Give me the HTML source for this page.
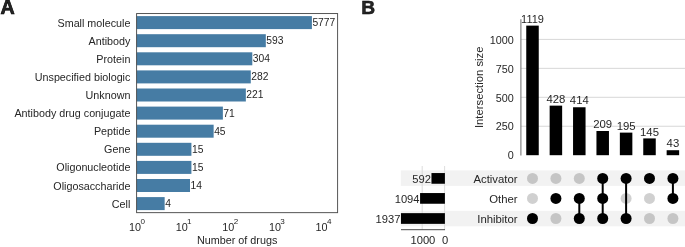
<!DOCTYPE html>
<html><head><meta charset="utf-8"><title>Figure</title>
<style>html,body{margin:0;padding:0;background:#fff}svg{display:block}text{font-family:"Liberation Sans",Arial,sans-serif;fill:#262626}</style></head><body>
<svg width="685" height="247" viewBox="0 0 685 247">
<rect width="685" height="247" fill="#fff"/>
<text x="0.4" y="14.4" font-size="19.5" font-weight="bold" fill="#000" stroke="#000" stroke-width="0.7" textLength="14.2" lengthAdjust="spacingAndGlyphs">A</text>
<text x="361.2" y="14.3" font-size="19.2" font-weight="bold" fill="#000" stroke="#000" stroke-width="0.5">B</text>
<rect x="136.6" y="16.10" width="175.30" height="13.0" fill="#467ca4"/>
<text x="130.4" y="26.60" font-size="10.75" text-anchor="end">Small molecule</text>
<text x="312.40" y="26.00" font-size="10.3">5777</text>
<rect x="136.6" y="34.20" width="129.22" height="13.0" fill="#467ca4"/>
<text x="130.4" y="44.70" font-size="10.75" text-anchor="end">Antibody</text>
<text x="266.32" y="44.10" font-size="10.3">593</text>
<rect x="136.6" y="52.30" width="115.70" height="13.0" fill="#467ca4"/>
<text x="130.4" y="62.80" font-size="10.75" text-anchor="end">Protein</text>
<text x="252.80" y="62.20" font-size="10.3">304</text>
<rect x="136.6" y="70.40" width="114.18" height="13.0" fill="#467ca4"/>
<text x="130.4" y="80.90" font-size="10.75" text-anchor="end">Unspecified biologic</text>
<text x="251.28" y="80.30" font-size="10.3">282</text>
<rect x="136.6" y="88.50" width="109.25" height="13.0" fill="#467ca4"/>
<text x="130.4" y="99.00" font-size="10.75" text-anchor="end">Unknown</text>
<text x="246.35" y="98.40" font-size="10.3">221</text>
<rect x="136.6" y="106.60" width="86.27" height="13.0" fill="#467ca4"/>
<text x="130.4" y="117.10" font-size="10.75" text-anchor="end">Antibody drug conjugate</text>
<text x="223.37" y="116.50" font-size="10.3">71</text>
<rect x="136.6" y="124.70" width="77.04" height="13.0" fill="#467ca4"/>
<text x="130.4" y="135.20" font-size="10.75" text-anchor="end">Peptide</text>
<text x="214.14" y="134.60" font-size="10.3">45</text>
<rect x="136.6" y="142.80" width="54.81" height="13.0" fill="#467ca4"/>
<text x="130.4" y="153.30" font-size="10.75" text-anchor="end">Gene</text>
<text x="191.91" y="152.70" font-size="10.3">15</text>
<rect x="136.6" y="160.90" width="54.81" height="13.0" fill="#467ca4"/>
<text x="130.4" y="171.40" font-size="10.75" text-anchor="end">Oligonucleotide</text>
<text x="191.91" y="170.80" font-size="10.3">15</text>
<rect x="136.6" y="179.00" width="53.41" height="13.0" fill="#467ca4"/>
<text x="130.4" y="189.50" font-size="10.75" text-anchor="end">Oligosaccharide</text>
<text x="190.51" y="188.90" font-size="10.3">14</text>
<rect x="136.6" y="197.10" width="28.06" height="13.0" fill="#467ca4"/>
<text x="130.4" y="207.60" font-size="10.75" text-anchor="end">Cell</text>
<text x="165.16" y="207.00" font-size="10.3">4</text>
<rect x="136.6" y="13.55" width="201.00000000000003" height="199.1" fill="none" stroke="#4d4d4d" stroke-width="0.95"/>
<text x="129.10" y="230.6" font-size="10.8">10</text>
<text x="140.50" y="223.9" font-size="8.1">0</text>
<text x="175.70" y="230.6" font-size="10.8">10</text>
<text x="187.10" y="223.9" font-size="8.1">1</text>
<text x="222.30" y="230.6" font-size="10.8">10</text>
<text x="233.70" y="223.9" font-size="8.1">2</text>
<text x="268.90" y="230.6" font-size="10.8">10</text>
<text x="280.30" y="223.9" font-size="8.1">3</text>
<text x="315.50" y="230.6" font-size="10.8">10</text>
<text x="326.90" y="223.9" font-size="8.1">4</text>
<text x="237.10" y="244.4" font-size="10.8" text-anchor="middle">Number of drugs</text>
<line x1="520.9" x2="685" y1="126.25" y2="126.25" stroke="#c6c6c6" stroke-width="0.7"/>
<line x1="520.9" x2="685" y1="97.30" y2="97.30" stroke="#c6c6c6" stroke-width="0.7"/>
<line x1="520.9" x2="685" y1="68.35" y2="68.35" stroke="#c6c6c6" stroke-width="0.7"/>
<line x1="520.9" x2="685" y1="39.40" y2="39.40" stroke="#c6c6c6" stroke-width="0.7"/>
<text x="513.6999999999999" y="159.40" font-size="10.8" text-anchor="end">0</text>
<text x="513.6999999999999" y="130.45" font-size="10.8" text-anchor="end">250</text>
<text x="513.6999999999999" y="101.50" font-size="10.8" text-anchor="end">500</text>
<text x="513.6999999999999" y="72.55" font-size="10.8" text-anchor="end">750</text>
<text x="513.6999999999999" y="43.60" font-size="10.8" text-anchor="end">1000</text>
<line x1="520.9" x2="520.9" y1="19.2" y2="155.6" stroke="#7a7a7a" stroke-width="1.1"/>
<rect x="526.25" y="25.62" width="12.5" height="129.58" fill="#000"/>
<text x="532.50" y="22.82" font-size="11.0" text-anchor="middle">1119</text>
<rect x="549.65" y="105.64" width="12.5" height="49.56" fill="#000"/>
<text x="555.90" y="102.84" font-size="11.35" text-anchor="middle">428</text>
<rect x="573.05" y="107.26" width="12.5" height="47.94" fill="#000"/>
<text x="579.30" y="104.46" font-size="11.35" text-anchor="middle">414</text>
<rect x="596.45" y="131.00" width="12.5" height="24.20" fill="#000"/>
<text x="602.70" y="128.20" font-size="11.35" text-anchor="middle">209</text>
<rect x="619.85" y="132.62" width="12.5" height="22.58" fill="#000"/>
<text x="626.10" y="129.82" font-size="11.35" text-anchor="middle">195</text>
<rect x="643.25" y="138.41" width="12.5" height="16.79" fill="#000"/>
<text x="649.50" y="135.61" font-size="11.35" text-anchor="middle">145</text>
<rect x="666.65" y="150.22" width="12.5" height="4.98" fill="#000"/>
<text x="672.90" y="147.42" font-size="11.35" text-anchor="middle">43</text>
<text transform="translate(482.7,87.3) rotate(-90)" font-size="11.3" text-anchor="middle">Intersection size</text>
<rect x="400.8" y="170.4" width="284.2" height="15.5" fill="#f2f2f2"/>
<rect x="400.8" y="210.8" width="284.2" height="15.5" fill="#f2f2f2"/>
<line x1="422.2" x2="422.2" y1="166" y2="229.7" stroke="#d4d4d4" stroke-width="0.8"/>
<line x1="444.6" x2="444.6" y1="166" y2="229.7" stroke="#d4d4d4" stroke-width="0.8"/>
<rect x="431.46" y="173.05" width="13.44" height="10.7" fill="#000"/>
<text x="430.96" y="182.60" font-size="11.2" text-anchor="end">592</text>
<text x="517.6" y="182.60" font-size="11.35" text-anchor="end">Activator</text>
<rect x="420.07" y="193.05" width="24.83" height="10.7" fill="#000"/>
<text x="419.57" y="202.60" font-size="11.2" text-anchor="end">1094</text>
<text x="517.6" y="202.60" font-size="11.35" text-anchor="end">Other</text>
<rect x="400.93" y="213.15" width="43.97" height="10.7" fill="#000"/>
<text x="400.43" y="222.70" font-size="11.2" text-anchor="end">1937</text>
<text x="517.6" y="222.70" font-size="11.35" text-anchor="end">Inhibitor</text>
<line x1="401" x2="445" y1="229.7" y2="229.7" stroke="#333" stroke-width="0.9"/>
<text x="422.9" y="243.8" font-size="11.2" text-anchor="middle">1000</text>
<text x="445.2" y="243.8" font-size="11.2" text-anchor="middle">0</text>
<circle cx="532.50" cy="178.4" r="5.5" fill="#000" fill-opacity="0.185"/>
<circle cx="532.50" cy="198.4" r="5.5" fill="#000" fill-opacity="0.185"/>
<circle cx="532.50" cy="218.5" r="5.5" fill="#000"/>
<circle cx="555.90" cy="178.4" r="5.5" fill="#000" fill-opacity="0.185"/>
<circle cx="555.90" cy="218.5" r="5.5" fill="#000" fill-opacity="0.185"/>
<circle cx="555.90" cy="198.4" r="5.5" fill="#000"/>
<circle cx="579.30" cy="178.4" r="5.5" fill="#000" fill-opacity="0.185"/>
<line x1="579.30" x2="579.30" y1="198.4" y2="218.5" stroke="#000" stroke-width="2"/>
<circle cx="579.30" cy="198.4" r="5.5" fill="#000"/>
<circle cx="579.30" cy="218.5" r="5.5" fill="#000"/>
<line x1="602.70" x2="602.70" y1="178.4" y2="218.5" stroke="#000" stroke-width="2"/>
<circle cx="602.70" cy="178.4" r="5.5" fill="#000"/>
<circle cx="602.70" cy="198.4" r="5.5" fill="#000"/>
<circle cx="602.70" cy="218.5" r="5.5" fill="#000"/>
<circle cx="626.10" cy="198.4" r="5.5" fill="#000" fill-opacity="0.185"/>
<line x1="626.10" x2="626.10" y1="178.4" y2="218.5" stroke="#000" stroke-width="2"/>
<circle cx="626.10" cy="178.4" r="5.5" fill="#000"/>
<circle cx="626.10" cy="218.5" r="5.5" fill="#000"/>
<circle cx="649.50" cy="198.4" r="5.5" fill="#000" fill-opacity="0.185"/>
<circle cx="649.50" cy="218.5" r="5.5" fill="#000" fill-opacity="0.185"/>
<circle cx="649.50" cy="178.4" r="5.5" fill="#000"/>
<circle cx="672.90" cy="218.5" r="5.5" fill="#000" fill-opacity="0.185"/>
<line x1="672.90" x2="672.90" y1="178.4" y2="198.4" stroke="#000" stroke-width="2"/>
<circle cx="672.90" cy="178.4" r="5.5" fill="#000"/>
<circle cx="672.90" cy="198.4" r="5.5" fill="#000"/>
</svg></body></html>
